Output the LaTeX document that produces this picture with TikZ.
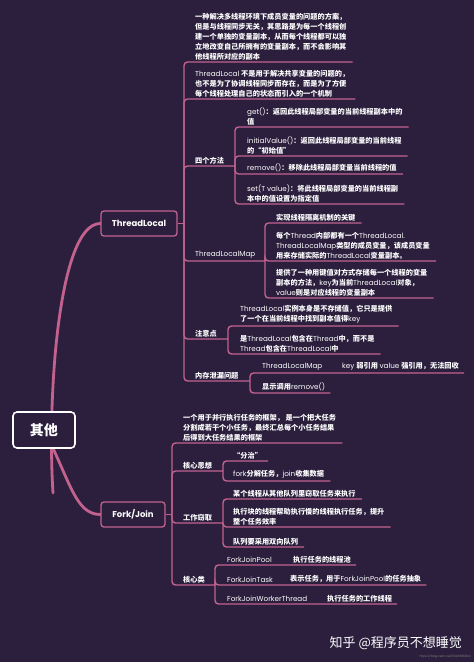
\documentclass[tikz,border=0pt]{standalone}
\usepackage{fontspec}
\setmainfont{Poppins}
\newfontfamily\cjkfont{Noto Sans CJK SC}
\usetikzlibrary{backgrounds}

% CJK characters get the CJK face, everything else stays Latin
\newXeTeXintercharclass\cjkclass
\newcount\cjkcode
\newcommand\cjkrange[2]{%
  \cjkcode=#1
  \loop\XeTeXcharclass\cjkcode=\cjkclass
    \ifnum\cjkcode<#2 \advance\cjkcode by 1 \repeat}
\cjkrange{"4E00}{"9FFF}
\cjkrange{"3000}{"303F}
\cjkrange{"FF00}{"FFEF}
\cjkrange{"201C}{"201D}
\newcommand\cjkon{\cjkfont\bfseries}
\newcommand\latinon{\rmfamily\mdseries}
\XeTeXinterchartoks 0 \cjkclass = {\cjkon}
\XeTeXinterchartoks 4095 \cjkclass = {\cjkon}
\XeTeXinterchartoks \cjkclass 0 = {\latinon}
\XeTeXinterchartoks 4095 0 = {\latinon}
\XeTeXinterchartokenstate=1

\definecolor{bgpurple}{HTML}{2B1F3D}
\definecolor{branchpink}{HTML}{C3628F}
\tikzset{
  leaf/.style={anchor=south west, inner xsep=0pt, inner ysep=2pt, align=left,
    text=white, font=\fontsize{7.2}{10}\selectfont},
  topicbox/.style={draw=branchpink, line width=1.3pt, rounded corners=3pt,
    fill=bgpurple, text=white, minimum height=25pt, inner xsep=0pt,
    font={\def\latinon{\rmfamily\bfseries}\latinon\fontsize{8.5}{10}\selectfont}},
  rootbox/.style={draw=white, line width=1.6pt, rounded corners=4pt,
    fill=bgpurple, text=white, minimum width=62pt, minimum height=36pt,
    font=\fontsize{14}{16}\selectfont},
  branch/.style={draw=branchpink, line width=1.4pt, rounded corners=3.5pt},
  trunk/.style={draw=branchpink, line width=2.8pt, line cap=round},
}

\begin{document}
\begin{tikzpicture}[x=1pt,y=-1pt]
\useasboundingbox (0,0) rectangle (474,662);

\node[rootbox] (other) at (44,430) {其他};
\node[topicbox, minimum width=76pt] (tl) at (139,223.5) {ThreadLocal};
\node[topicbox, minimum width=64pt] (fj) at (133,514.5) {Fork/Join};
\coordinate (tail) at (53,493);

% ThreadLocal
\coordinate (tl-fork) at (184,223.5);
\node[leaf] (tl-idea) at (195,62) {一种解决多线程环境下成员变量的问题的方案，\\但是与线程同步无关，其思路是为每一个线程创\\建一个单独的变量副本，从而每个线程都可以独\\立地改变自己所拥有的变量副本，而不会影响其\\他线程所对应的副本};
\node[leaf] (tl-aim) at (195,99) {ThreadLocal 不是用于解决共享变量的问题的，\\也不是为了协调线程同步而存在，而是为了方便\\每个线程处理自己的状态而引入的一个机制};
\node[leaf] (methods) at (195,166) {四个方法};
\coordinate (methods-fork) at (235,166);
\node[leaf] (get) at (247,127) {get()：返回此线程局部变量的当前线程副本中的\\值};
\node[leaf] (init) at (247,156) {initialValue()：返回此线程局部变量的当前线程\\的“初始值”};
\node[leaf] (remove) at (247,174) {remove()：移除此线程局部变量当前线程的值};
\node[leaf] (set) at (247,204) {set(T value)：将此线程局部变量的当前线程副\\本中的值设置为指定值};
\node[leaf] (tlmap) at (195,261) {ThreadLocalMap};
\coordinate (tlmap-fork) at (265,261);
\node[leaf] (isolate) at (276,223) {实现线程隔离机制的关键};
\node[leaf] (member) at (276,261) {每个Thread内部都有一个ThreadLocal.\\ThreadLocalMap类型的成员变量，该成员变量\\用来存储实际的ThreadLocal变量副本。};
\node[leaf] (keyvalue) at (276,298) {提供了一种用键值对方式存储每一个线程的变量\\副本的方法，key为当前ThreadLocal对象，\\value则是对应线程的变量副本};
\node[leaf] (notes) at (195,339) {注意点};
\coordinate (notes-fork) at (228,339);
\node[leaf] (nostore) at (240,326) {ThreadLocal实例本身是不存储值，它只是提供\\了一个在当前线程中找到副本值得key};
\node[leaf] (contain) at (240,354) {是ThreadLocal包含在Thread中，而不是\\Thread包含在ThreadLocal中};
\node[leaf] (leak) at (195,381) {内存泄漏问题};
\coordinate (leak-fork) at (250,381);
\node[leaf] (leak-map) at (262,373) {ThreadLocalMap};
\node[leaf] (leak-why) at (342,373) {key 弱引用 value 强引用，无法回收};
\node[leaf] (leak-fix) at (262,393) {显示调用remove()};

% Fork/Join
\coordinate (fj-fork) at (172,514.5);
\node[leaf] (fj-idea) at (183,443) {一个用于并行执行任务的框架， 是一个把大任务\\分割成若干个小任务，最终汇总每个小任务结果\\后得到大任务结果的框架};
\node[leaf] (core) at (183,471) {核心思想};
\coordinate (core-fork) at (223,471);
\node[leaf] (divide) at (233,461) {“分治”};
\node[leaf] (forkjoin) at (233,481) {fork分解任务，join收集数据};
\node[leaf] (steal) at (183,523) {工作窃取};
\coordinate (steal-fork) at (223,523);
\node[leaf] (steal-what) at (233,499) {某个线程从其他队列里窃取任务来执行};
\node[leaf] (steal-why) at (233,527) {执行块的线程帮助执行慢的线程执行任务，提升\\整个任务效率};
\node[leaf] (deque) at (233,547) {队列要采用双向队列};
\node[leaf] (classes) at (183,585) {核心类};
\coordinate (classes-fork) at (215,585);
\node[leaf] (pool) at (227,565) {ForkJoinPool};
\node[leaf] (pool-role) at (293,565) {执行任务的线程池};
\node[leaf] (task) at (227,585) {ForkJoinTask};
\node[leaf] (task-role) at (290,585) {表示任务，用于ForkJoinPool的任务抽象};
\node[leaf] (worker) at (227,604) {ForkJoinWorkerThread};
\node[leaf] (worker-role) at (327,604) {执行任务的工作线程};

\node[anchor=east, inner sep=0pt, text=white,
  font={\XeTeXinterchartokenstate=0 \cjkfont\fontsize{13}{15}\selectfont}]
  (zhihu) at (462,643) {知乎 @程序员不想睡觉};
\node[anchor=east, inner sep=0pt, text=gray,
  font={\XeTeXinterchartokenstate=0 \fontsize{3}{3}\selectfont}]
  (csdn) at (471,656) {https://blog.csdn.net/l1028386804};

\begin{scope}[on background layer]
\fill[bgpurple] (0,0) rectangle (474,662);
\draw[trunk] (tail) .. controls (47,400) and (58,223.5) .. (tl.west);
\draw[trunk] (other.center) .. controls (70,480) and (75,514.5) .. (fj.west);

\draw[branch] (tl.east) -- (tl-fork);
\foreach \n in {tl-idea,tl-aim}
  \draw[branch] (tl-fork) |- ([xshift=6pt]\n.south east);
\foreach \n in {methods,tlmap,notes,leak}
  \draw[branch] (tl-fork) |- (\n-fork);
\foreach \n in {get,init,remove,set}
  \draw[branch] (methods-fork) |- ([xshift=6pt]\n.south east);
\foreach \n in {isolate,member,keyvalue}
  \draw[branch] (tlmap-fork) |- ([xshift=6pt]\n.south east);
\foreach \n in {nostore,contain}
  \draw[branch] (notes-fork) |- ([xshift=6pt]\n.south east);
\draw[branch] (leak-fork) |- (leak-map.south east) -- ([xshift=5pt]leak-why.south east);
\draw[branch] (leak-fork) |- ([xshift=5pt]leak-fix.south east);

\draw[branch] (fj.east) -- (fj-fork);
\draw[branch] (fj-fork) |- ([xshift=6pt]fj-idea.south east);
\foreach \n in {core,steal,classes}
  \draw[branch] (fj-fork) |- (\n-fork);
\foreach \n in {divide,forkjoin}
  \draw[branch] (core-fork) |- ([xshift=6pt]\n.south east);
\foreach \n in {steal-what,steal-why,deque}
  \draw[branch] (steal-fork) |- ([xshift=6pt]\n.south east);
\foreach \n/\r in {pool/pool-role,task/task-role,worker/worker-role}
  \draw[branch] (classes-fork) |- (\n.south east) -- ([xshift=5pt]\r.south east);
\end{scope}
\end{tikzpicture}
\end{document}
